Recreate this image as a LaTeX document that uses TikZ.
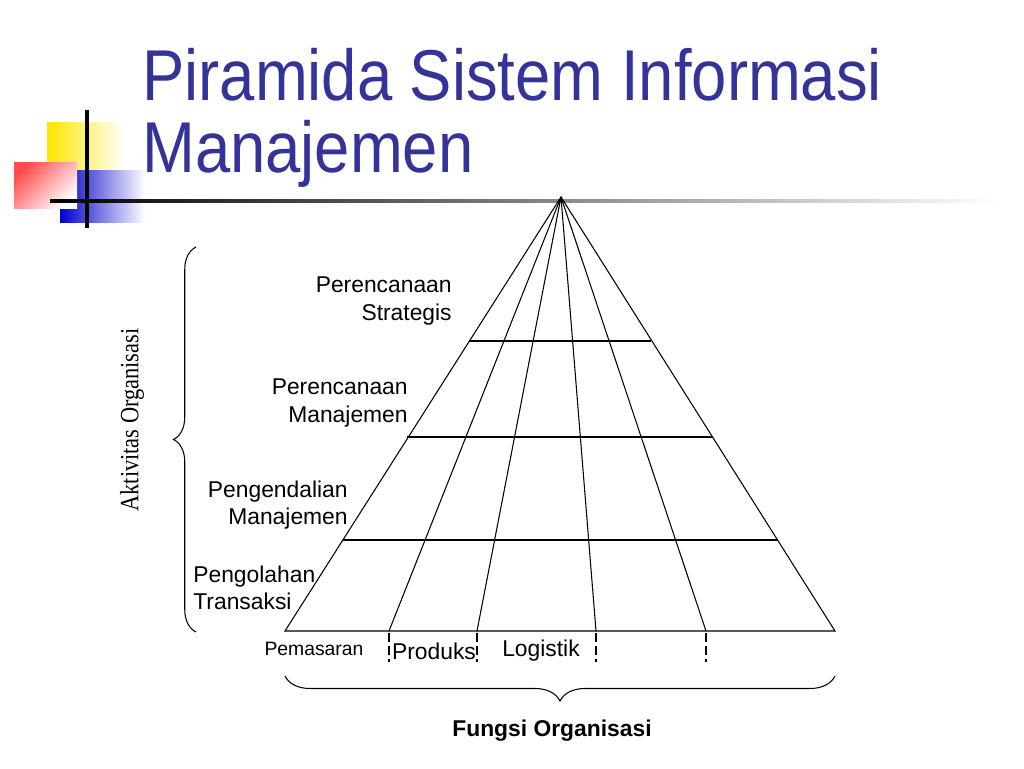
\documentclass[tikz,border=0pt]{standalone}
\usepackage{fontspec}
\setmainfont{Liberation Sans}
\newfontfamily\serifcond{Liberation Serif}
\usetikzlibrary{positioning}
\usetikzlibrary{decorations.pathreplacing}
\definecolor{titleblue}{RGB}{51,51,153}
\tikzset{
  level/.style={font=\fontsize{13}{15.5}\selectfont, align=right, anchor=east, inner sep=0pt},
  func/.style={font=\fontsize{13}{15}\selectfont, inner sep=0pt},
  cut/.style={semithick, dash pattern=on 5pt off 2.5pt},
  titletext/.style={anchor=base west, inner sep=0pt, text=titleblue, font=\fontsize{41}{50}\selectfont, xscale=0.88},
}
\begin{document}
\begin{tikzpicture}[x=0.02cm, y=-0.02cm]
\useasboundingbox (0,0) rectangle (1024,768);

% logo
\shade[left color=yellow!80!orange, right color=white] (47,122) rectangle (125,180);
\shade[left color=blue!80!black, right color=white] (60,170) rectangle (145,222);
\shade[left color=white, right color=red, top color=red!70, bottom color=white, shading angle=45] (14,162) rectangle (77,208);
\draw[line width=2.5pt] (87,110) -- (87,228);
\shade[left color=black, right color=white] (50,199) rectangle (1000,202);

% title
\node[titletext] (title1) at (142,100) {Piramida Sistem Informasi};
\node[titletext] (title2) at (142,172) {Manajemen};

% pyramid
\begin{scope}[semithick]
\coordinate (apex) at (561,197);
\coordinate (bl) at (285,631);
\coordinate (br) at (835,631);
\draw (bl) -- (apex) -- (br) -- cycle;
\foreach \x in {389,477,596,706}
  \draw (apex) -- (\x,631);
\draw (469,341) -- (651,341);
\draw (407,437) -- (713,437);
\draw (343,540) -- (778,540);
\end{scope}
\foreach \x in {389,477,596,706}
  \draw[cut] (\x,633) -- (\x,662);

% levels
\node[level] (strat) at (452,301) {Perencanaan\\Strategis};
\node[level] (manj) at (408,403) {Perencanaan\\Manajemen};
\node[level] (kend) at (348,505) {Pengendalian\\Manajemen};
\node[level, align=left, anchor=west] (trans) at (193,588) {Pengolahan\\Transaksi};

% functions
\node[func, font=\fontsize{11}{13}\selectfont] (pemasaran) at (314,649) {Pemasaran};
\node[func] (produksi) at (434,651) {Produks};
\node[func] (logistik) at (541,651) {Logistik};
\node[func, font=\bfseries\fontsize{13}{15}\selectfont] (fungsi) at (552,731) {Fungsi Organisasi};

% braces
\draw[semithick, decorate, decoration={brace, amplitude=0.45cm}] (196,632) -- (196,247);
\node[rotate=90, font=\serifcond\fontsize{15}{16}\selectfont, xscale=0.85, inner sep=0pt] (aktivitas) at (132,420) {Aktivitas Organisasi};
\draw[semithick, decorate, decoration={brace, amplitude=0.5cm}] (835,676) -- (285,676);
\end{tikzpicture}
\end{document}
